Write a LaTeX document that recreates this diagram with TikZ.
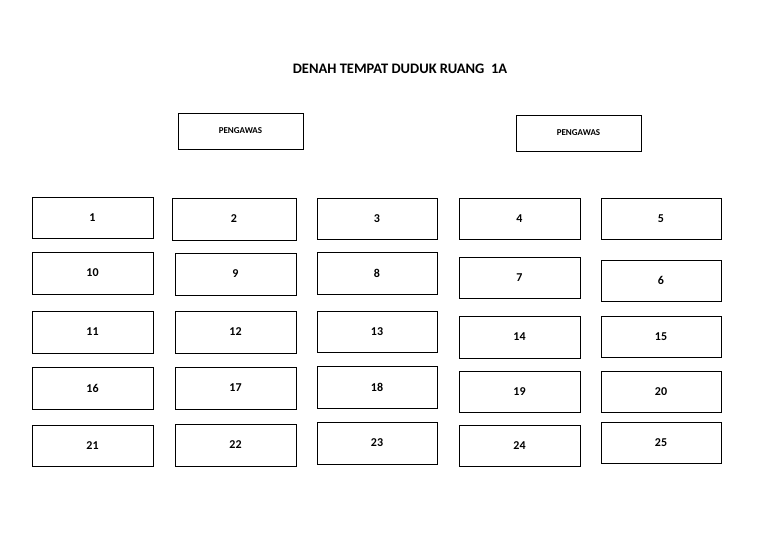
\documentclass[tikz,border=0pt]{standalone}
\usepackage{fontspec}
\setmainfont{Carlito}
\begin{document}
\begin{tikzpicture}[x=1pt,y=-1pt,
  seatfont/.style={font=\bfseries\fontsize{12}{14}\selectfont},
  guardfont/.style={font=\bfseries\fontsize{9}{11}\selectfont}]
\useasboundingbox (0,0) rectangle (768,543);
\node[font=\bfseries\fontsize{14.5}{17}\selectfont] (title) at (400,69) {DENAH TEMPAT DUDUK RUANG\ \ 1A};
\draw[line width=0.8pt] (178,113) rectangle (303,149) node[midway,guardfont] (p1) {PENGAWAS};
\draw[line width=0.8pt] (516,115) rectangle (641,151) node[midway,guardfont] (p2) {PENGAWAS};
\foreach \n/\a/\b/\c/\d in {
1/32/197/153/238, 2/172/198/296/240, 3/317/198/437/239, 4/459/198/580/239, 5/601/198/721/239,
10/32/252/153/294, 9/175/253/296/295, 8/317/252/437/294, 7/459/257/580/298, 6/601/260/721/301,
11/32/311/153/353, 12/175/311/296/353, 13/317/311/437/352, 14/459/316/580/358, 15/601/316/721/357,
16/32/367/153/409, 17/175/367/296/409, 18/317/366/437/408, 19/459/371/580/412, 20/601/371/721/412,
21/32/425/153/466, 22/175/424/296/466, 23/317/422/437/464, 24/459/425/580/466, 25/601/422/721/463}
{ \draw[line width=0.8pt] (\a,\b) rectangle (\c,\d) node[midway,seatfont] (s\n) {\n}; }
\end{tikzpicture}
\end{document}
